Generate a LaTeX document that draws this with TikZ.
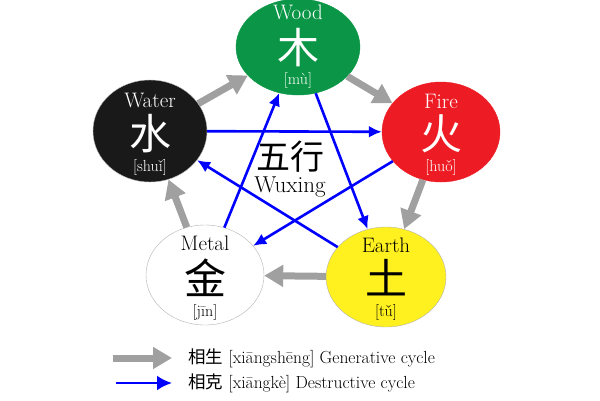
\documentclass[tikz,border=0pt]{standalone}
\usepackage{fontspec}
\newfontfamily\cjk{Noto Sans CJK SC}
\usepackage{tikz}
\usetikzlibrary{arrows.meta, positioning, shapes.geometric, calc}
\definecolor{woodgreen}{RGB}{10,150,70}
\definecolor{firered}{RGB}{237,28,36}
\definecolor{earthyellow}{RGB}{255,240,32}
\definecolor{waterblack}{RGB}{25,25,25}
\definecolor{gengray}{RGB}{160,160,160}

\begin{document}
\begin{tikzpicture}[
    x=1pt, y=-1pt,
    elem/.style={ellipse, draw=black!30, line width=0.4pt, inner sep=0pt,
        minimum width=118pt, minimum height=100pt},
    ename/.style={font=\fontsize{21}{21}\selectfont, inner sep=0pt},
    hanzi/.style={font=\cjk\fontsize{42}{42}\selectfont, inner sep=0pt},
    pinyin/.style={font=\fontsize{16}{16}\selectfont, inner sep=0pt},
    legend/.style={font=\fontsize{17.5}{17.5}\selectfont, inner sep=0pt, anchor=west},
    gen/.style={-{Triangle[length=19pt, width=21pt]}, line width=7pt, color=gengray},
    des/.style={-{Latex[length=13pt, width=12pt]}, line width=2.6pt, color=blue}
]
    \useasboundingbox (0,0) rectangle (600,400);

    % the five elements
    \node[elem, fill=woodgreen, draw=woodgreen, minimum width=124pt, minimum height=96pt] (wood) at (298,47) {};
    \node[elem, fill=waterblack, minimum width=114pt, minimum height=102pt] (water) at (150,131) {};
    \node[elem, fill=firered, draw=firered] (fire) at (441,132) {};
    \node[elem, fill=white] (metal) at (205,275) {};
    \node[elem, fill=earthyellow, minimum width=120pt] (earth) at (386,277) {};

    \node[ename, white] (woodname) at ([yshift=35pt]wood.center) {Wood};
    \node[hanzi, white] (woodzi) at ([yshift=-1pt]wood.center) {木};
    \node[pinyin, white] (woodpy) at ([yshift=-33pt]wood.center) {[mù]};

    \node[ename, white] (watername) at ([yshift=31pt]water.center) {Water};
    \node[hanzi, white] (waterzi) at ([yshift=-3pt]water.center) {水};
    \node[pinyin, white] (waterpy) at ([yshift=-36pt]water.center) {[shuǐ]};

    \node[ename, white] (firename) at ([yshift=31pt]fire.center) {Fire};
    \node[hanzi, white] (firezi) at ([yshift=-2pt]fire.center) {火};
    \node[pinyin, white] (firepy) at ([yshift=-35pt]fire.center) {[huǒ]};

    \node[ename] (metalname) at ([yshift=32pt]metal.center) {Metal};
    \node[hanzi] (metalzi) at ([yshift=-3pt]metal.center) {金};
    \node[pinyin] (metalpy) at ([yshift=-37pt]metal.center) {[jīn]};

    \node[ename] (earthname) at ([yshift=32pt]earth.center) {Earth};
    \node[hanzi] (earthzi) at ([yshift=-1pt]earth.center) {土};
    \node[pinyin] (earthpy) at ([yshift=-35pt]earth.center) {[tǔ]};

    \node[font=\cjk\fontsize{34}{34}\selectfont, inner sep=0pt] (wuxingzi) at (290,157) {五行};
    \node[font=\fontsize{23}{23}\selectfont, inner sep=0pt] (wuxing) at (290,187) {Wuxing};

    % generative cycle
    \draw[gen] (water) -- (wood);
    \draw[gen] (wood) -- (fire);
    \draw[gen] (fire) -- (earth);
    \draw[gen] (earth) -- (metal);
    \draw[gen] (metal) -- (water);

    % destructive cycle
    \draw[des] (wood) -- (earth);
    \draw[des] (earth) -- (water);
    \draw[des] (water) -- (fire);
    \draw[des] (fire) -- (metal);
    \draw[des] (metal) -- (wood);

    % legend
    \coordinate (g0) at (113,358);
    \coordinate (g1) at (172,358);
    \coordinate (d0) at (116,383);
    \coordinate (d1) at (172,383);
    \draw[gen] (g0) -- (g1);
    \draw[des, -{Latex[length=15pt, width=15pt]}] (d0) -- (d1);
    \node[legend] (gentext) at (188,358) {{\cjk 相生} [xiāngshēng] Generative cycle};
    \node[legend] (destext) at (188,383) {{\cjk 相克} [xiāngkè] Destructive cycle};
\end{tikzpicture}
\end{document}
